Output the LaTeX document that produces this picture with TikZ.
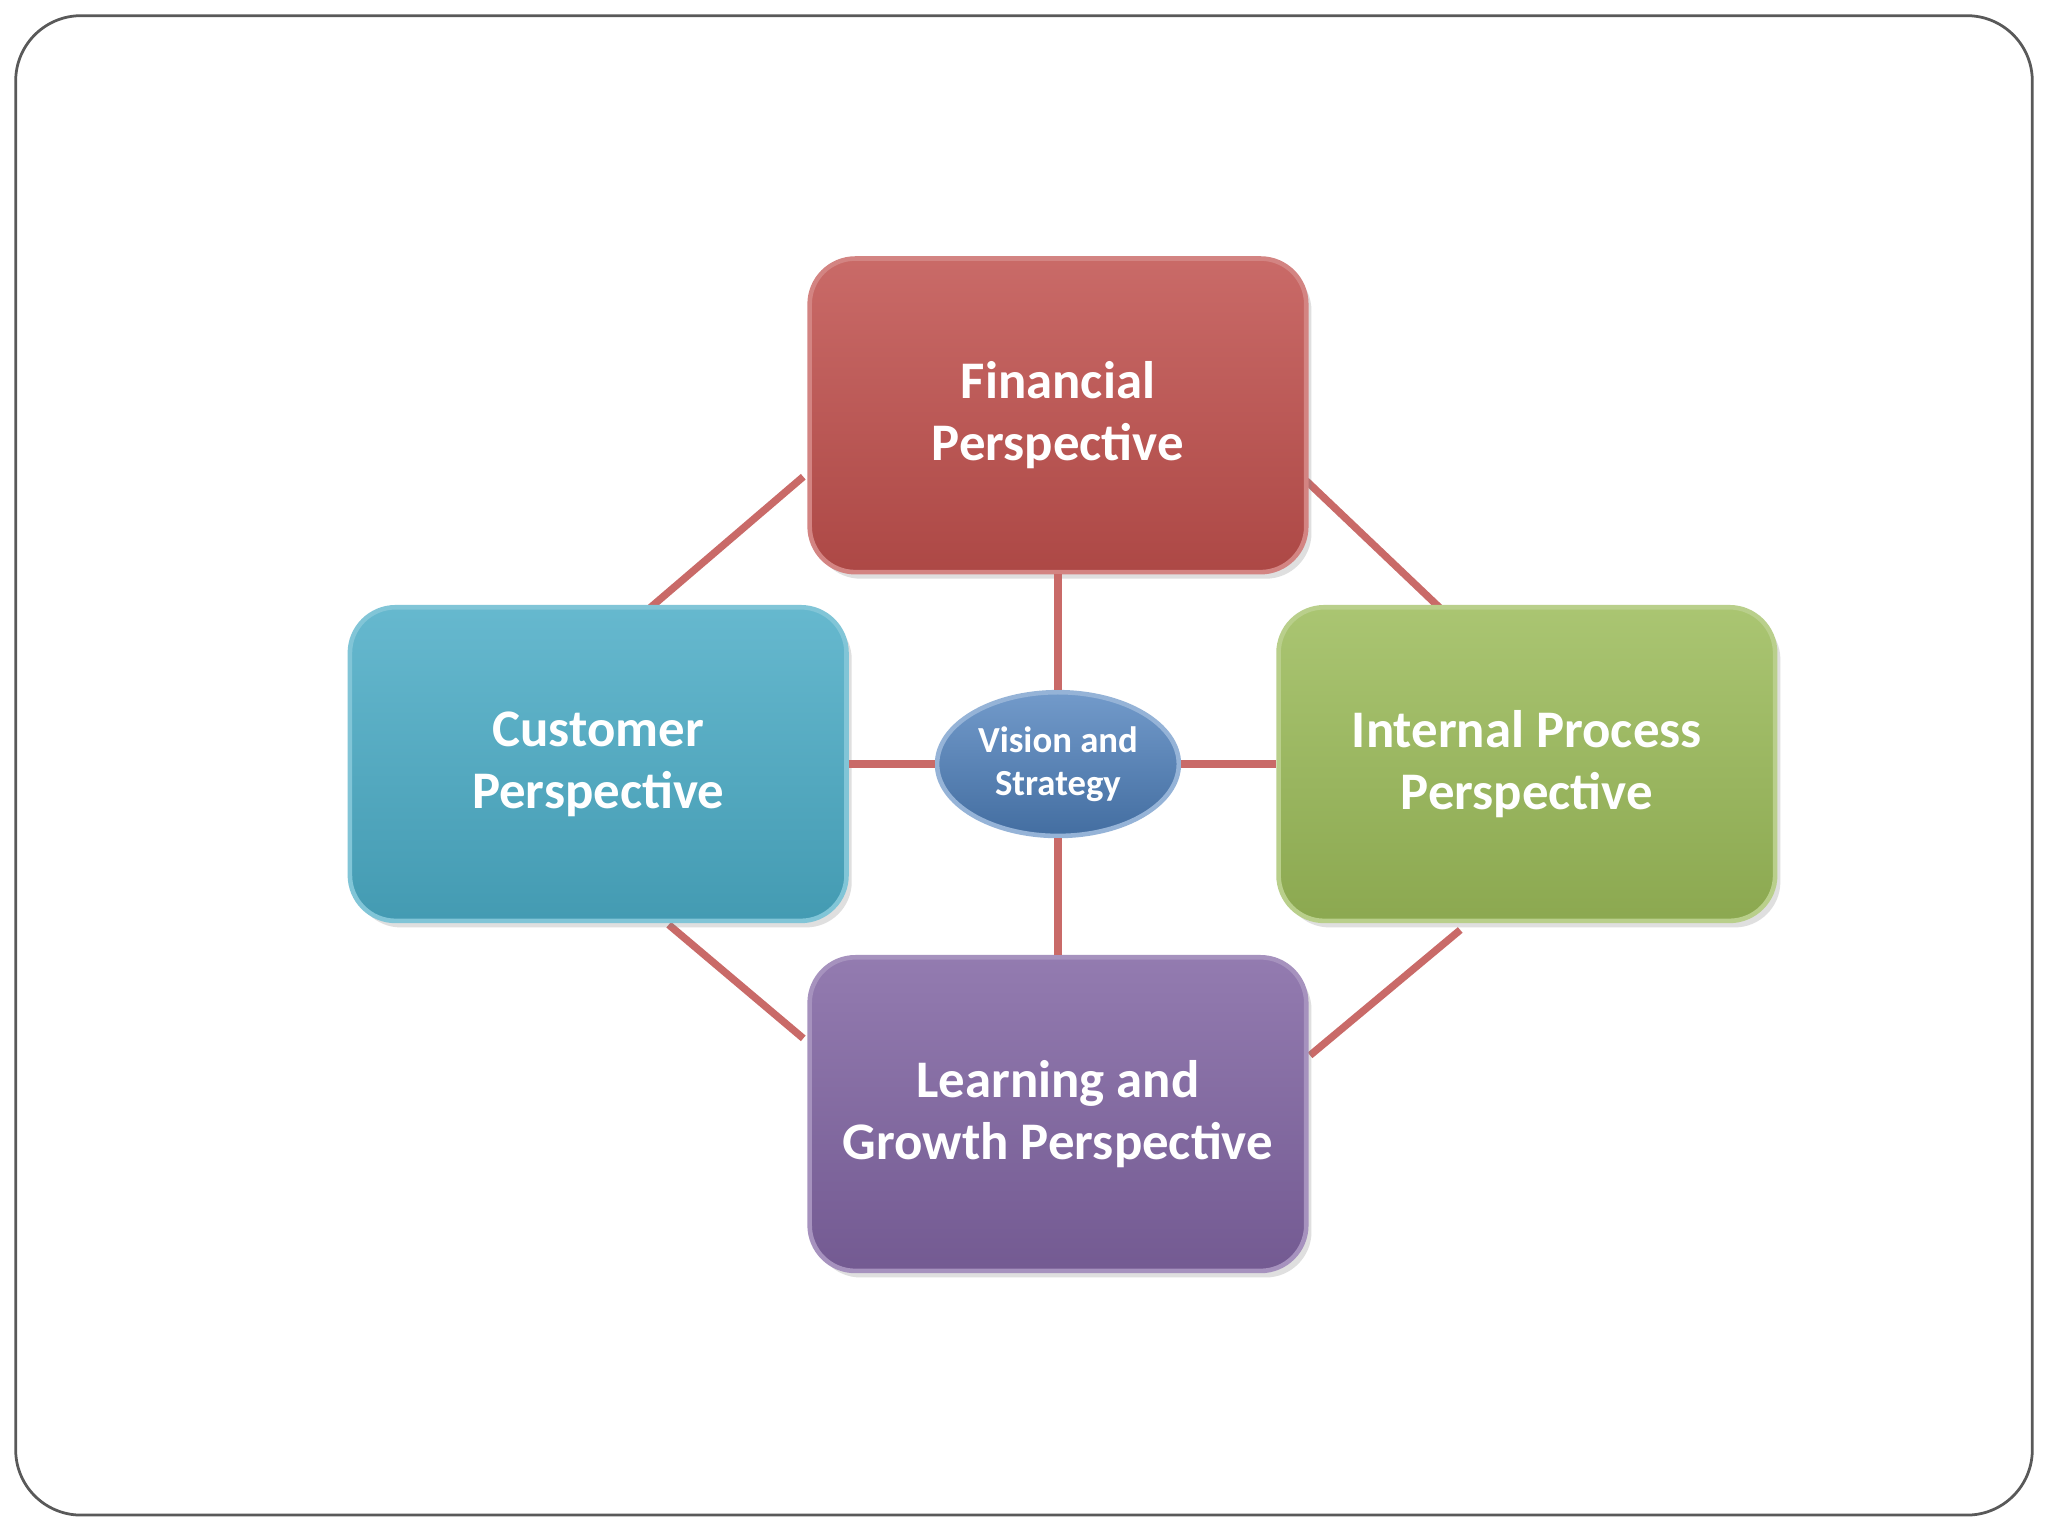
\documentclass[tikz,border=0pt]{standalone}
\usepackage{fontspec}
\setmainfont{Carlito}
\usetikzlibrary{shapes.geometric,shadows}
\definecolor{fin}{HTML}{C0504D}
\definecolor{cus}{HTML}{4BACC6}
\definecolor{inp}{HTML}{9BBB59}
\definecolor{lrn}{HTML}{8064A2}
\definecolor{vis}{HTML}{4F81BD}
\definecolor{conn}{HTML}{C0504D}
\tikzset{
 persp/.style={rounded corners=0.35cm, minimum width=3.8cm, minimum height=2.4cm, align=center, text=white, font=\fontsize{11.5}{13.5}\selectfont\bfseries, draw=#1!70!white, line width=1pt, top color=#1!85!white, bottom color=#1!90!black, drop shadow={opacity=0.25,shadow xshift=0.04cm,shadow yshift=-0.05cm}},
 conline/.style={draw=conn!85!white, line width=1.6pt}
}
\begin{document}
\begin{tikzpicture}[x=0.01cm,y=-0.01cm]
\useasboundingbox (0,0) rectangle (1568,1176);
\fill[white] (0,0) rectangle (1568,1176);
\draw[gray!70!black, line width=0.6pt, rounded corners=0.5cm] (12,12) rectangle (1556,1160);
\coordinate (d1a) at (615,365); \coordinate (d1b) at (497,466);
\coordinate (d2a) at (1000,368); \coordinate (d2b) at (1103,466);
\coordinate (d3a) at (512,708); \coordinate (d3b) at (615,795);
\coordinate (d4a) at (1118,712); \coordinate (d4b) at (1003,808);
\draw[conline] (d1a)--(d1b); \draw[conline] (d2a)--(d2b);
\draw[conline] (d3a)--(d3b); \draw[conline] (d4a)--(d4b);
\node[persp=fin] (fin) at (810,318) {Financial\\Perspective};
\node[persp=cus] (cus) at (458,585) {Customer\\Perspective};
\node[persp=inp] (inp) at (1169,585) {Internal Process\\Perspective};
\node[persp=lrn] (lrn) at (810,853) {Learning and\\Growth Perspective};
\node[ellipse, minimum width=1.85cm, minimum height=1.1cm, inner sep=0pt, align=center, text=white, font=\fontsize{8}{9.5}\selectfont\bfseries, top color=vis!80!white, bottom color=vis!85!black, draw=vis!60!white, line width=1pt] (vis) at (810,585) {Vision and\\Strategy};
\draw[conline] (fin)--(vis); \draw[conline] (vis)--(lrn);
\draw[conline] (cus)--(vis); \draw[conline] (vis)--(inp);
\end{tikzpicture}
\end{document}
